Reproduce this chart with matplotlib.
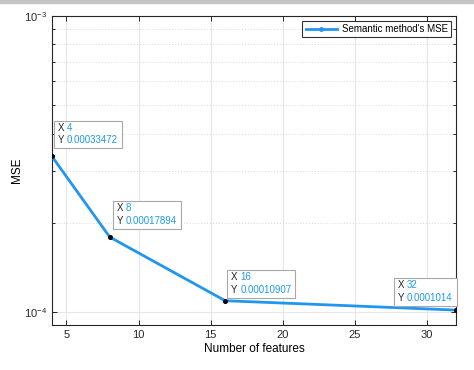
import numpy as np
import matplotlib
matplotlib.use('Agg')
import matplotlib.pyplot as plt
from matplotlib.patches import Rectangle
from matplotlib.transforms import Bbox

# ── data ──
n_features = [4, 8, 16, 32]
mse = [0.00033472, 0.00017894, 0.00010907, 0.0001014]
series_label = "Semantic method's MSE"
x_ticks = [5, 10, 15, 20, 25, 30]
# datatip box offsets (pixels from the point)
tip_off = [(1, 7), (2, 7), (1, 2), (-63, 3)]

LINE_C = '#2196ee'
VAL_C = '#1f9be8'

plt.rcParams['font.family'] = ['Liberation Sans', 'DejaVu Sans']
plt.rcParams['mathtext.fontset'] = 'custom'
plt.rcParams['mathtext.rm'] = 'Liberation Sans'

fig = plt.figure(figsize=(4.74, 3.70), dpi=100)
ax = fig.add_axes([52/474, 1-325/370, (456-52)/474, (325-15.7)/370])
fig.patches.append(Rectangle((0, 1-3/370), 1, 3/370, color='#c4c4c4',
                             transform=fig.transFigure, zorder=0))

ax.plot(n_features, mse, '-', color=LINE_C, lw=2.0, marker='o', ms=2.5,
        mfc=LINE_C, mec=LINE_C, label=series_label, zorder=3)
ax.plot(n_features, mse, 'o', color='black', ms=2.5, zorder=4)

ax.set_yscale('log')
ax.set_xlim(4, 32)
ax.set_ylim(9.03e-5, 1e-3)
ax.set_xticks(x_ticks)
ax.set_xticklabels([str(t) for t in x_ticks])
ax.set_yticks([1e-4, 1e-3])
ax.set_yticks([k*1e-4 for k in range(2, 10)], minor=True)
ax.yaxis.set_minor_formatter(matplotlib.ticker.NullFormatter())

ax.grid(True, which='major', color='#e6e6e6', lw=0.8, zorder=0)
ax.grid(True, which='minor', axis='y', color='#d8d8d8', lw=0.7, ls=(0, (1, 2)), zorder=0)
ax.tick_params(which='both', direction='in', top=True, right=True,
               labelsize=8, colors='#262626', width=0.7)
ax.tick_params(which='major', length=3.5)
ax.tick_params(which='minor', length=2)
for s in ax.spines.values():
    s.set_color('#262626')
    s.set_linewidth(0.8)

ax.set_xlabel('Number of features', fontsize=8.5, labelpad=2)
ax.set_ylabel('MSE', fontsize=8.5, labelpad=1)

leg = ax.legend(loc='upper right', fontsize=7, frameon=True, fancybox=False,
                borderaxespad=0.5, handlelength=3.2, handletextpad=0.5,
                borderpad=0.35)
leg.get_frame().set_edgecolor('black')
leg.get_frame().set_linewidth(0.8)

# datatips: black X/Y labels, blue values, grey box drawn around both
tips = []
for x, y, (dx, dy) in zip(n_features, mse, tip_off):
    ys = '{:.8g}'.format(y)
    t1 = ax.annotate('X\nY', (x, y), xytext=(dx + 5, dy + 4), textcoords='offset pixels',
                     ha='left', va='bottom', fontsize=7, color='#262626', linespacing=1.35,
                     zorder=6, annotation_clip=False)
    t2 = ax.annotate(f'{x}\n{ys}', (x, y), xytext=(dx + 14, dy + 4), textcoords='offset pixels',
                     ha='left', va='bottom', fontsize=7, color=VAL_C, linespacing=1.35,
                     zorder=6, annotation_clip=False)
    tips.append((t1, t2))

fig.canvas.draw()
r = fig.canvas.get_renderer()
for t1, t2 in tips:
    bb = Bbox.union([t1.get_window_extent(r), t2.get_window_extent(r)])
    ax.add_patch(Rectangle((bb.x0 - 4, bb.y0 - 3), bb.width + 8, bb.height + 5,
                           transform=None, fc='white', ec='#a8a8a8', lw=0.8,
                           zorder=5, clip_on=False))

fig.savefig('out.png', dpi=100)
